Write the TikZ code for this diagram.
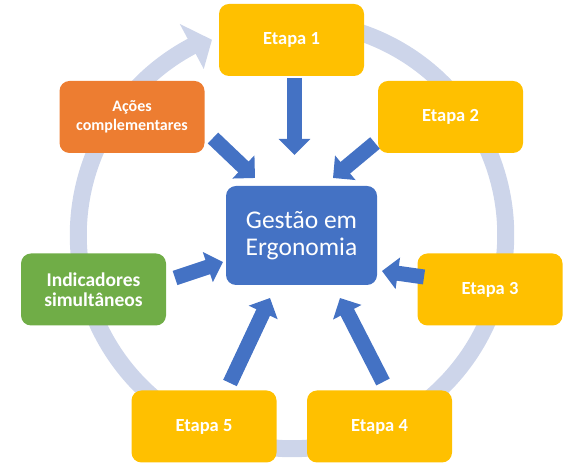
\documentclass[tikz,border=0pt]{standalone}
\usepackage{fontspec}
\setmainfont{Carlito}
\usetikzlibrary{arrows.meta,calc}
\definecolor{ringc}{HTML}{CDD5EA}
\definecolor{stepy}{HTML}{FFC000}
\definecolor{orangec}{HTML}{ED7D31}
\definecolor{greenc}{HTML}{70AD47}
\definecolor{bluec}{HTML}{4472C4}
\tikzset{
  box/.style={rounded corners=10pt, minimum width=145pt, minimum height=72pt,
    inner sep=0pt, align=center, text=white, font=\bfseries\fontsize{18.5}{21}\selectfont},
  yellowbox/.style={box, fill=stepy},
  blockarrow/.style={draw=bluec, line width=15pt,
    -{Triangle[width=31pt,length=16pt,fill=bluec]}},
}
\begin{document}
\begin{tikzpicture}[x=1pt,y=1pt]
\useasboundingbox (0,0) rectangle (567,470);
% ring
\coordinate (c) at (292,235);
\draw[ringc, line width=17pt] ($(c)+(80:213.7)$) arc[start angle=80, end angle=-243, radius=213.7];
\fill[ringc] ($(c)+(118:239)$) -- ($(c)+(112.3:211)$) -- ($(c)+(118:188)$) -- cycle;
% nodes
\node[yellowbox] (e1) at (291.5,430) {Etapa 1};
\node[yellowbox] (e2) at (450.5,353) {Etapa 2};
\node[box, fill=orangec, font=\bfseries\fontsize{16}{18.5}\selectfont] (ac) at (132,353) {Ações\\complementares};
\node[box, fill=bluec, minimum width=151pt, minimum height=99pt, font=\fontsize{25.5}{27}\selectfont] (g) at (301.5,234.5) {Gestão em\\Ergonomia};
\node[box, fill=greenc, font=\bfseries\fontsize{19.5}{20.5}\selectfont] (ind) at (93.5,180.5) {Indicadores\\simultâneos};
\node[yellowbox] (e3) at (490,180.5) {Etapa 3};
\node[yellowbox] (e5) at (204,43.5) {Etapa 5};
\node[yellowbox] (e4) at (379.5,43.5) {Etapa 4};
% arrow ends
\coordinate (t1) at (294.5,392); \coordinate (h1) at (294.5,315);
\coordinate (t2) at (375,327);   \coordinate (h2) at (333,292);
\coordinate (ta) at (213,332);   \coordinate (ha) at (255,292);
\coordinate (ti) at (175,192);   \coordinate (hi) at (223,208);
\coordinate (t5) at (230,87);    \coordinate (h5) at (270,172);
\coordinate (t4) at (383,88);    \coordinate (h4) at (340,172);
\coordinate (t3) at (424,193);   \coordinate (h3) at (382,199);
\draw[blockarrow] (t1) -- (h1);
\draw[blockarrow] (t2) -- (h2);
\draw[blockarrow] (ta) -- (ha);
\draw[blockarrow] (ti) -- (hi);
\draw[blockarrow] (t5) -- (h5);
\draw[blockarrow] (t4) -- (h4);
\draw[blockarrow] (t3) -- (h3);
\end{tikzpicture}
\end{document}
